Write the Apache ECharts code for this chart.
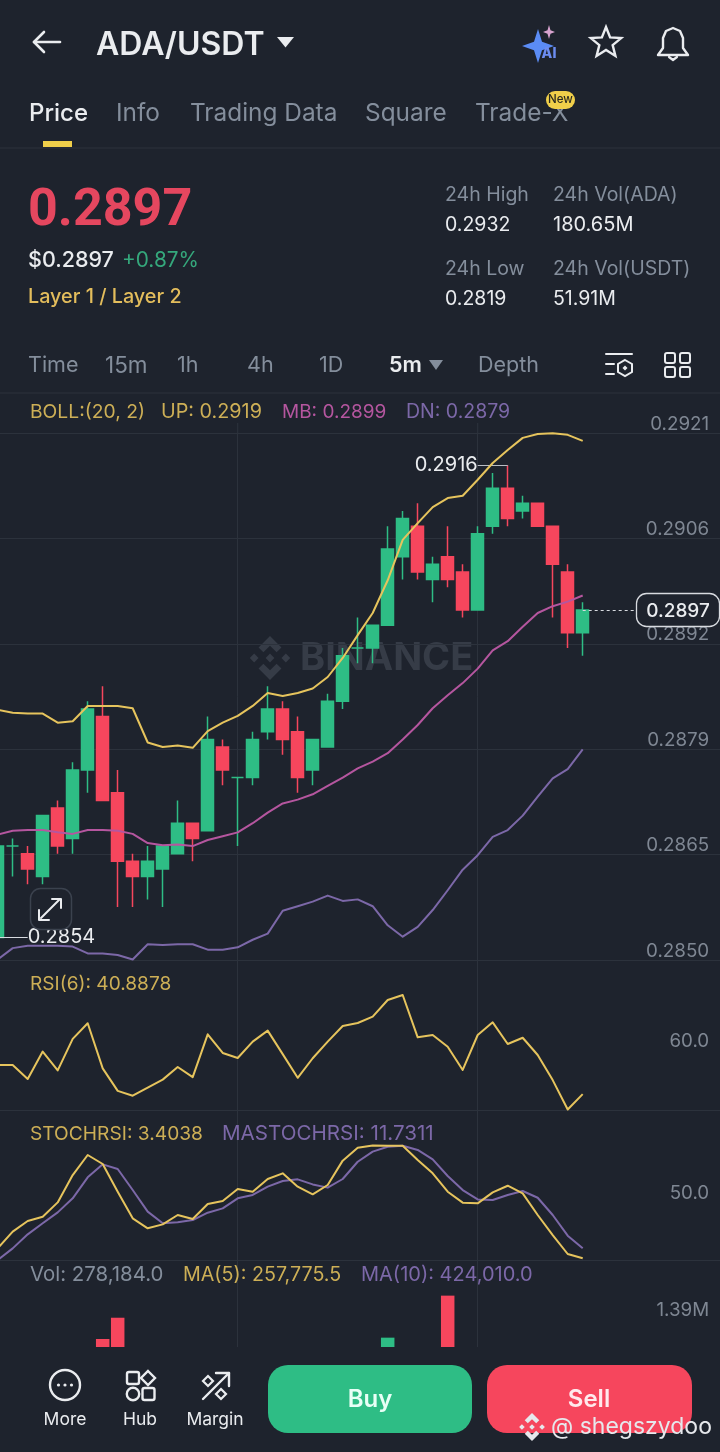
<!DOCTYPE html>
<html><head><meta charset="utf-8">
<style>html,body{margin:0;padding:0;background:#1e232d}#c{width:720px;height:1452px}</style>
<script src="https://cdn.jsdelivr.net/npm/echarts@6/dist/echarts.min.js"></script>
</head><body><div id="c"></div>
<script>
const opens=[0.2854,0.2866,0.2865,0.2862,0.2871,0.2867,0.2876,0.2883,0.2873,0.2864,0.2862,0.2863,0.2865,0.2869,0.2868,0.2879,0.2875,0.2875,0.2881,0.2884,0.2881,0.2876,0.2879,0.2885,0.2892,0.2892,0.2895,0.2904,0.2908,0.2901,0.2904,0.2902,0.2897,0.2908,0.2913,0.2910,0.2911,0.2908,0.2902,0.2894];
const closes=[0.2866,0.2866,0.2863,0.2870,0.2866,0.2876,0.2884,0.2872,0.2864,0.2862,0.2864,0.2866,0.2869,0.2867,0.2880,0.2876,0.2875,0.2880,0.2884,0.2880,0.2875,0.2880,0.2885,0.2891,0.2892,0.2895,0.2905,0.2909,0.2902,0.2903,0.2901,0.2897,0.2907,0.2913,0.2909,0.2911,0.2908,0.2903,0.2894,0.2897];
const lows=[0.2854,0.2862,0.2861,0.2861,0.2865,0.2865,0.2873,0.2872,0.2858,0.2858,0.2859,0.2858,0.2865,0.2864,0.2868,0.2874,0.2866,0.2874,0.2880,0.2878,0.2873,0.2874,0.2879,0.2884,0.2890,0.2890,0.2895,0.2901,0.2901,0.2898,0.2900,0.2896,0.2897,0.2907,0.2908,0.2909,0.2908,0.2896,0.2892,0.2891];
const highs=[0.2866,0.2867,0.2866,0.2870,0.2872,0.2877,0.2885,0.2887,0.2876,0.2865,0.2866,0.2866,0.2872,0.2869,0.2883,0.2880,0.2875,0.2881,0.2887,0.2885,0.2883,0.2880,0.2886,0.2892,0.2896,0.2895,0.2908,0.2910,0.2911,0.2904,0.2908,0.2903,0.2908,0.2915,0.2916,0.2912,0.2911,0.2908,0.2903,0.2898];
const bollUp=[0.28839,0.28835,0.28834,0.28834,0.28822,0.28824,0.28844,0.28844,0.28844,0.28841,0.28796,0.28790,0.28792,0.28789,0.28811,0.28822,0.28831,0.28844,0.28861,0.28857,0.28861,0.28867,0.28882,0.28907,0.28937,0.28966,0.29009,0.29062,0.29084,0.29105,0.29117,0.29120,0.29141,0.29163,0.29180,0.29196,0.29201,0.29202,0.29200,0.29192];
const bollMid=[0.28675,0.28680,0.28681,0.28681,0.28678,0.28676,0.28681,0.28681,0.28680,0.28676,0.28664,0.28661,0.28662,0.28660,0.28668,0.28673,0.28678,0.28690,0.28704,0.28716,0.28721,0.28728,0.28739,0.28750,0.28762,0.28771,0.28782,0.28800,0.28819,0.28841,0.28858,0.28874,0.28893,0.28917,0.28929,0.28948,0.28966,0.28975,0.28981,0.28989];
const bollDn=[0.28511,0.28526,0.28529,0.28529,0.28529,0.28528,0.28519,0.28519,0.28517,0.28511,0.28531,0.28530,0.28531,0.28531,0.28524,0.28524,0.28527,0.28537,0.28545,0.28575,0.28581,0.28587,0.28595,0.28588,0.28590,0.28581,0.28556,0.28541,0.28554,0.28576,0.28602,0.28629,0.28648,0.28672,0.28681,0.28700,0.28725,0.28749,0.28761,0.28787];
const rsi6=[53.6,53.6,47.5,59.4,51.2,64.9,71.7,52.1,42.3,40.2,43.7,47.2,52.7,48.3,66.9,58.8,56.6,63.7,68.5,58.3,48.0,56.5,63.7,70.5,71.8,74.6,81.8,84.0,65.6,66.6,61.5,51.4,66.6,72.1,62.7,65.4,57.9,47.0,34.2,40.89];
const stochK=[11.7,25.6,34.5,38.1,50.0,72.8,89.5,82.0,58.9,36.7,28.4,31.7,39.5,36.2,48.7,51.2,61.2,58.9,69.5,74.2,63.1,56.7,64.5,84.8,95.6,97.5,97.2,97.2,85.3,74.2,58.9,49.8,49.2,58.4,63.9,57.5,39.5,22.8,7.0,3.4];
const stochMa=[2.0,11.7,23.4,32.6,41.7,53.4,70.9,81.7,77.8,60.3,42.3,32.6,33.4,35.3,41.4,45.0,53.4,56.2,63.1,67.8,69.2,65.0,62.3,69.5,83.9,92.3,96.4,97.2,93.7,85.9,72.0,60.3,52.5,52.0,56.2,59.5,53.9,39.5,22.3,11.7];
const volumes=[null,null,null,null,null,null,null,1066000,1410000,null,null,null,null,null,null,null,null,null,null,null,null,null,null,null,null,null,1088000,null,null,null,1767000,null,null,null,null,null,null,null,null,null];
const priceTicks=['0.2850','0.2865','0.2879','0.2892','0.2906','0.2921'];
const rsiTicks=[60];
const stochTicks=[50];
const volTicks=[1390000];
const slots=Array.from({length:49},(_,i)=>String(i));

const BG='#1e232d',GRID='#2c323c',GRAY='#848e9c',WHITE='#eaecef',GREEN='#2ebd85',RED='#f6465d',
YEL='#e6c45d',MAG='#b5569f',PUR='#7c68a8',FONT='Inter';
const candles=opens.map((o,i)=>[o,closes[i],lows[i],highs[i]]);
const g=[];
function T(x,y,text,size,fill,weight,align,z,opacity,font){g.push({type:'text',x,y,z:z==null?60:z,silent:true,style:{text,fill,opacity:opacity==null?1:opacity,font:(weight||400)+' '+size+'px '+(font||FONT),textAlign:align||'left',textVerticalAlign:'middle'}});}
function R(x,y,w,h,r,fill,stroke,z,lw){g.push({type:'rect',z:z==null?60:z,silent:true,shape:{x,y,width:w,height:h,r},style:{fill:fill||'none',stroke:stroke||'none',lineWidth:lw||1.5}});}
function PL(pts,stroke,lw,z){g.push({type:'polyline',z:z==null?60:z,silent:true,shape:{points:pts},style:{stroke,lineWidth:lw||2,fill:'none',lineCap:'round',lineJoin:'round'}});}
function PG(pts,fill,z,stroke,lw,op){g.push({type:'polygon',z:z==null?60:z,silent:true,shape:{points:pts},style:{fill:fill||'none',stroke:stroke||'none',lineWidth:lw||1,opacity:op==null?1:op}});}
function C(cx,cy,r,fill,stroke,z,lw){g.push({type:'circle',z:z==null?60:z,silent:true,shape:{cx,cy,r},style:{fill:fill||'none',stroke:stroke||'none',lineWidth:lw||2}});}
function D(cx,cy,r,fill,z,stroke,lw,op){PG([[cx,cy-r],[cx+r,cy],[cx,cy+r],[cx-r,cy]],fill,z,stroke,lw,op);}
function logo(cx,cy,s,fill,z,op){
  D(cx,cy,s*.2,fill,z,null,0,op);D(cx-s*.72,cy,s*.2,fill,z,null,0,op);D(cx+s*.72,cy,s*.2,fill,z,null,0,op);
  PG([[cx,cy-s],[cx+s*.52,cy-s*.48],[cx+s*.3,cy-s*.26],[cx,cy-s*.56],[cx-s*.3,cy-s*.26],[cx-s*.52,cy-s*.48]],fill,z,null,0,op);
  PG([[cx,cy+s],[cx+s*.52,cy+s*.48],[cx+s*.3,cy+s*.26],[cx,cy+s*.56],[cx-s*.3,cy+s*.26],[cx-s*.52,cy+s*.48]],fill,z,null,0,op);
}
function star(cx,cy,R1,R2){const p=[];for(let i=0;i<10;i++){const r=i%2?R2:R1,a=-Math.PI/2+i*Math.PI/5;p.push([cx+r*Math.cos(a),cy+r*Math.sin(a)]);}return p;}
function spark(cx,cy,rx,ry){return [[cx,cy-ry],[cx+rx*.25,cy-ry*.25],[cx+rx,cy],[cx+rx*.25,cy+ry*.25],[cx,cy+ry],[cx-rx*.25,cy+ry*.25],[cx-rx,cy],[cx-rx*.25,cy-ry*.25]];}

// header
PL([[34,42],[60,42]],WHITE,2.6);PL([[44,32],[34,42],[44,52]],WHITE,2.6);
T(96,45,'ADA/USDT',32,WHITE,600);
PG([[277,37],[294,37],[285.5,47.5]],WHITE);
PG(spark(538,46,16,17),'#5b8cf5');PG(spark(549,32,6,7),'#d8a3cf');
T(549,54,'AI',14,'#6c8cf0',800,'center');
PG(star(606,43,16,7),'none',60,WHITE,2.4);
PL([[658,55],[663,48],[663,38],[666,31],[673,28],[680,31],[683,38],[683,48],[688,55],[658,55]],WHITE,2.4);
PL([[669,57],[673,60],[677,57]],WHITE,2.2);
// tabs
T(29,114,'Price',24,WHITE,500);
T(116,114,'Info',24.4,GRAY,400);T(190,114,'Trading Data',24.4,GRAY,400);T(365,114,'Square',24.4,GRAY,400);T(475,114,'Trade-X',24.4,GRAY,400);
R(546,91,29,18,9,'#f0cf4a');T(560.5,100,'New',11.5,'#2a2a20',500,'center');
R(43,141,29,6,0,'#f0cf4a');
R(0,147.5,720,1,0,GRID);
// ticker
T(28,212,'0.2897',52,'#e5475f',700,'left',60,1,'Roboto');
T(28,260.5,'$0.2897',21.5,WHITE,500);T(122,260.5,'+0.87%',20.8,'#35a87c',400);
T(28,297,'Layer 1 / Layer 2',19.8,'#e3bd5c',500);
T(445,195,'24h High',19.5,GRAY);T(553,195,'24h Vol(ADA)',19.5,GRAY);
T(445,225,'0.2932',19.5,WHITE);T(553,225,'180.65M',20,WHITE);
T(445,269,'24h Low',19.5,GRAY);T(553,269,'24h Vol(USDT)',19.5,GRAY);
T(445,299,'0.2819',19.5,WHITE);T(553,299,'51.91M',19.5,WHITE);
// timeframe row
T(28,366,'Time',21.5,GRAY);T(105,366,'15m',22.5,GRAY);T(177,366,'1h',21.5,GRAY);T(247,366,'4h',21.5,GRAY);T(319,366,'1D',21.5,GRAY);
T(389,366,'5m',21.5,WHITE,600);PG([[429,360],[443,360],[436,370]],GRAY);T(478,366,'Depth',21.5,GRAY);
PL([[606,354],[632,354]],WHITE,2);PL([[606,364],[614,364]],WHITE,2);PL([[606,374],[614,374]],WHITE,2);
PG([[625,360],[632,364],[632,372],[625,376],[618,372],[618,364]],'none',60,WHITE,2);D(625,368,2.5,WHITE);
R(665,353,10,10,2,null,WHITE,60,2);R(680,353,10,10,2,null,WHITE,60,2);R(665,367,10,10,2,null,WHITE,60,2);R(680,367,10,10,2,null,WHITE,60,2);
R(0,392.5,720,1,0,GRID);
R(237.2,423,1,10,0,GRID,null,1);R(477.2,423,1,10,0,GRID,null,1);
// legends
T(30,412,'BOLL:(20, 2)',19.3,'#cdaf56');T(161,412,'UP: 0.2919',19.8,'#cdaf56');T(282,412,'MB: 0.2899',19,MAG);T(406,412,'DN: 0.2879',19.5,PUR);
T(30,984,'RSI(6): 40.8878',19.1,'#cdaf56');
T(30,1134,'STOCHRSI: 3.4038',19.2,'#cdaf56');T(222,1134,'MASTOCHRSI: 11.7311',20.6,PUR);
T(30,1275,'Vol: 278,184.0',20.4,GRAY);T(183,1275,'MA(5): 257,775.5',19.7,'#cdaf56');T(361,1275,'MA(10): 424,010.0',20,PUR);
// chart watermark
logo(270,658,22,'#363c47',0);
T(300,659,'BINANCE',38,'#363c47',700,'left',0);
// current price tag
R(636.5,593.5,83,33,10,BG,'#d8dbe0',70,1.3);T(678,611,'0.2897',19,WHITE,500,'center',71);
// expand button
R(30.5,888.5,41,41,10,BG,'#3b424e',70,1.5);
PL([[41,918],[60,899]],WHITE,2,71);PL([[52,899],[61,899],[61,908]],WHITE,2,71);PL([[39,910],[39,920],[49,920]],WHITE,2,71);
// bottom bar
R(0,1347,720,105,0,BG,null,80);
C(65,1385,15,null,WHITE,81,2.4);C(58.5,1385,1.6,WHITE,null,81);C(65,1385,1.6,WHITE,null,81);C(71.5,1385,1.6,WHITE,null,81);
T(65,1420,'More',17.5,WHITE,400,'center',81);
R(127,1372,12,12,2,null,WHITE,81,2.4);D(148,1378,7,null,81,WHITE,2.4);C(133,1394,6.2,null,WHITE,81,2.4);R(142.5,1388,12,12,2,null,WHITE,81,2.4);
T(140,1420,'Hub',17.5,WHITE,400,'center',81);
PL([[203,1399],[229,1373]],WHITE,2.4,81);PL([[216,1373],[229,1373],[229,1386]],WHITE,2.4,81);D(208,1381,5,null,81,WHITE,2.2);D(221,1394,5,null,81,WHITE,2.2);
T(215,1420,'Margin',17.5,WHITE,400,'center',81);
R(268,1365,204,68,20,GREEN,null,81);T(370,1400,'Buy',24,'#e8fff6',600,'center',82);
R(487,1365,205,68,20,RED,null,81);T(589,1400,'Sell',24,'#ffe9ec',600,'center',82);
logo(532,1427,14,'#e6e8ec',83);
T(551,1427,'@ shegszydoo',23,'#e6e8ec',400,'left',83);

const xBase={type:'category',data:slots,boundaryGap:true,axisTick:{show:false},axisLabel:{show:false},
  axisLine:{show:true,lineStyle:{color:GRID,width:1}},
  splitLine:{show:true,alignWithLabel:true,interval:(i)=>i===16||i===32,lineStyle:{color:GRID,width:1}}};
const yBase={position:'right',scale:false,axisLine:{show:false},axisTick:{show:false},splitLine:{show:false}};
const lab={inside:true,margin:16,verticalAlign:'bottom',color:'#7f8793',fontFamily:FONT,fontSize:18.8,align:'right',lineHeight:18};
const G={left:-9.8,width:735,outerBoundsMode:'none',containLabel:false};
const ln=(name,data,color,xi,w)=>({name,type:'line',data,xAxisIndex:xi,yAxisIndex:xi,showSymbol:false,symbol:'none',smooth:false,z:5,
  lineStyle:{color,width:w||2,join:'round'},emphasis:{disabled:true},animation:false});
const chart=echarts.init(document.getElementById('c'),null,{renderer:'canvas',width:720,height:1452});
chart.setOption({
  animation:false,backgroundColor:BG,
  grid:[{...G,top:433,height:527},{...G,top:960,height:150},{...G,top:1110,height:150},{...G,top:1260,height:87}],
  xAxis:[0,1,2,3].map(i=>({...xBase,gridIndex:i})),
  yAxis:[
    {...yBase,gridIndex:0,type:'value',min:0.285104,max:0.292024,interval:0.001384,
      splitLine:{show:true,lineStyle:{color:GRID,width:1}},
      axisLabel:{...lab,formatter:(v,i)=>priceTicks[i]}},
    {...yBase,gridIndex:1,type:'value',min:34,max:99.2,axisLabel:{...lab,customValues:rsiTicks,formatter:v=>v.toFixed(1)}},
    {...yBase,gridIndex:2,type:'value',min:2,max:127,axisLabel:{...lab,customValues:stochTicks,formatter:v=>v.toFixed(1)}},
    {...yBase,gridIndex:3,type:'value',min:937000,max:2343000,axisLabel:{...lab,customValues:volTicks,formatter:v=>(v/1e6).toFixed(2)+'M'}}
  ],
  series:[
    {name:'ADA/USDT',type:'candlestick',data:candles,xAxisIndex:0,yAxisIndex:0,barWidth:12,z:3,
      itemStyle:{color:GREEN,color0:RED,borderColor:GREEN,borderColor0:RED,borderColorDoji:GREEN,borderWidth:1.5},
      markLine:{silent:true,symbol:'none',animation:false,
        data:[
          [{coord:[39,0.2897],lineStyle:{color:'#d8dbe0',type:[3,3],width:1}},{coord:[43,0.2897]}],
          [{coord:[34,0.2916],lineStyle:{color:'#b9bdc4',type:'solid',width:1},
            label:{show:true,position:'end',formatter:'0.2916',color:WHITE,fontFamily:FONT,fontSize:20,distance:0}},{coord:[32,0.2916]}],
          [{coord:[0,0.2854],lineStyle:{color:'#d8dbe0',type:'solid',width:1},
            label:{show:true,position:'end',formatter:'0.2854',color:WHITE,fontFamily:FONT,fontSize:20,distance:0}},{coord:[2,0.2854]}]
        ],label:{show:false}}},
    ln('UP',bollUp,YEL,0),ln('MB',bollMid,MAG,0),ln('DN',bollDn,PUR,0),
    ln('RSI(6)',rsi6,YEL,1),
    ln('MASTOCHRSI',stochMa,PUR,2),ln('STOCHRSI',stochK,YEL,2),
    {name:'Vol',type:'bar',xAxisIndex:3,yAxisIndex:3,barWidth:13.5,z:3,
      data:volumes.map((v,i)=>v==null?null:{value:v,itemStyle:{color:closes[i]>=opens[i]?GREEN:RED}})}
  ],
  graphic:{elements:g}
});
</script></body></html>
